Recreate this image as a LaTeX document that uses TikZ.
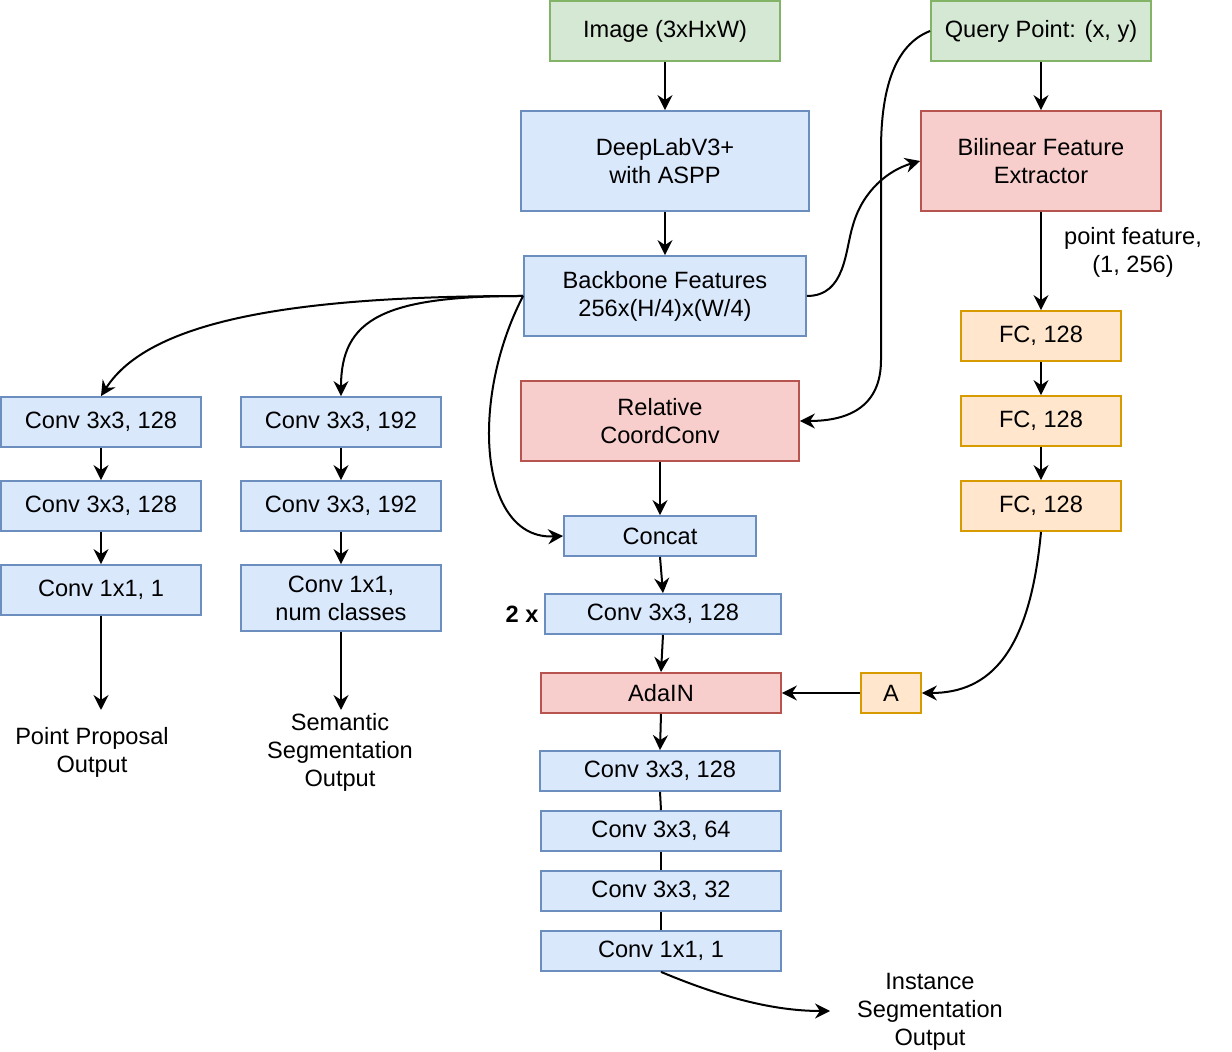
\documentclass[tikz,border=0pt]{standalone}
\usepackage{fontspec}
\setmainfont{Liberation Sans}
\usetikzlibrary{arrows.meta}
\definecolor{bluef}{HTML}{DAE8FC}\definecolor{blued}{HTML}{6C8EBF}
\definecolor{greenf}{HTML}{D5E8D4}\definecolor{greend}{HTML}{82B366}
\definecolor{redf}{HTML}{F8CECC}\definecolor{redd}{HTML}{B85450}
\definecolor{orangef}{HTML}{FFE6CC}\definecolor{oranged}{HTML}{D79B00}
\newcommand{\fs}{\fontsize{11.8}{14}\selectfont}
\tikzset{
  x=0.5pt,y=-0.5pt,
  box/.style={draw, rectangle, inner sep=0pt, align=center, font=\fs, line width=0.9pt},
  bluebox/.style={box, fill=bluef, draw=blued},
  greenbox/.style={box, fill=greenf, draw=greend},
  redbox/.style={box, fill=redf, draw=redd},
  orangebox/.style={box, fill=orangef, draw=oranged},
  lbl/.style={align=center, font=\fs, inner sep=0pt},
  arr/.style={line width=1pt, -{Stealth[length=7.5pt,width=7.5pt,inset=2.5pt]}},
  ln/.style={line width=1pt},
}
\begin{document}
\begin{tikzpicture}
\useasboundingbox (0,0) rectangle (1232,1052);
% top
\node[greenbox, minimum width=115pt, minimum height=30pt] (img) at (665,31) {Image (3xHxW)};
\node[greenbox, minimum width=110pt, minimum height=30pt] (query) at (1041,31) {Query Point: (x, y)};
\node[bluebox, minimum width=144pt, minimum height=50pt] (deeplab) at (665,161) {DeepLabV3+\\with ASPP};
\node[bluebox, minimum width=141pt, minimum height=40pt] (backbone) at (665,296) {Backbone Features\\256x(H/4)x(W/4)};
\node[redbox, minimum width=120pt, minimum height=50pt] (bilinear) at (1041,161) {Bilinear Feature\\Extractor};
\node[lbl] (pf) at (1133,252) {point feature,\\(1, 256)};
\node[orangebox, minimum width=80pt, minimum height=25pt] (fc1) at (1041,336) {FC, 128};
\node[orangebox, minimum width=80pt, minimum height=25pt] (fc2) at (1041,421) {FC, 128};
\node[orangebox, minimum width=80pt, minimum height=25pt] (fc3) at (1041,506) {FC, 128};
% middle
\node[redbox, minimum width=139pt, minimum height=40pt] (rel) at (660,421) {Relative\\CoordConv};
\node[bluebox, minimum width=96pt, minimum height=20pt] (concat) at (660,536) {Concat};
\node[bluebox, minimum width=118pt, minimum height=20pt] (conv2x) at (663,614) {Conv 3x3, 128};
\node[lbl, font=\fs\bfseries] (twox) at (522,614) {2 x};
\node[redbox, minimum width=120pt, minimum height=20pt] (adain) at (661,693) {AdaIN};
\node[orangebox, minimum width=30pt, minimum height=20pt] (a) at (891,693) {A};
\node[bluebox, minimum width=120pt, minimum height=20pt] (m1) at (660,771) {Conv 3x3, 128};
\node[bluebox, minimum width=120pt, minimum height=20pt] (m2) at (661,831) {Conv 3x3, 64};
\node[bluebox, minimum width=120pt, minimum height=20pt] (m3) at (661,891) {Conv 3x3, 32};
\node[bluebox, minimum width=120pt, minimum height=20pt] (m4) at (661,951) {Conv 1x1, 1};
\node[lbl] (instout) at (930,1012) {Instance\\Segmentation\\Output};
\coordinate (instend) at (830,1011);
% left columns
\node[bluebox, minimum width=100pt, minimum height=25pt] (l1) at (101,422) {Conv 3x3, 128};
\node[bluebox, minimum width=100pt, minimum height=25pt] (l2) at (101,506) {Conv 3x3, 128};
\node[bluebox, minimum width=100pt, minimum height=25pt] (l3) at (101,590) {Conv 1x1, 1};
\coordinate (lend) at (101,710);
\node[lbl] (ppout) at (92,752) {Point Proposal\\Output};
\node[bluebox, minimum width=100pt, minimum height=25pt] (s1) at (341,422) {Conv 3x3, 192};
\node[bluebox, minimum width=100pt, minimum height=25pt] (s2) at (341,506) {Conv 3x3, 192};
\node[bluebox, minimum width=100pt, minimum height=33pt] (s3) at (341,598) {Conv 1x1,\\num classes};
\coordinate (send) at (341,710);
\node[lbl] (ssout) at (340,752) {Semantic\\Segmentation\\Output};
% coordinates for routing
\coordinate (q1) at (881,150);
\coordinate (q2) at (881,360);
\coordinate (b1) at (853,225);
% edges
\draw[arr] (img) -- (deeplab);
\draw[arr] (deeplab) -- (backbone);
\draw[arr] (query) -- (bilinear);
\draw[arr] (bilinear) -- (fc1);
\draw[arr] (fc1) -- (fc2);
\draw[arr] (fc2) -- (fc3);
\draw[arr] (fc3.south) .. controls +(-11,119) and +(69,0) .. (a.east);
\draw[arr] (a) -- (adain);
\draw[arr] (backbone.east) .. controls +(39,0) and +(-8,25) .. (b1) .. controls +(10,-35) and +(-31,9) .. (bilinear.west);
\draw[arr] (query.west) .. controls +(-36,14) and +(0,-60) .. (q1) -- (q2) .. controls +(0,45) and +(51,0) .. (rel.east);
\draw[arr] (backbone.west) .. controls +(-224,0) and +(49,-77) .. (l1.north);
\draw[arr] (backbone.west) .. controls +(-140,0) and +(0,-77) .. (s1.north);
\draw[arr] (backbone.west) .. controls +(-54,104) and +(-84,4) .. (concat.west);
\draw[arr] (rel) -- (concat);
\draw[arr] (concat.south) -- (conv2x.north);
\draw[arr] (conv2x.south) -- (adain.north);
\draw[arr] (adain.south) -- (m1.north);
\draw[ln] (m1.south) -- (m2.north);
\draw[ln] (m2.south) -- (m3.north);
\draw[ln] (m3.south) -- (m4.north);
\draw[arr] (m4.south) .. controls +(69,29) and +(-50,0) .. (instend);
\draw[arr] (l1) -- (l2);
\draw[arr] (l2) -- (l3);
\draw[arr] (l3) -- (lend);
\draw[arr] (s1) -- (s2);
\draw[arr] (s2) -- (s3);
\draw[arr] (s3) -- (send);
\end{tikzpicture}
\end{document}
